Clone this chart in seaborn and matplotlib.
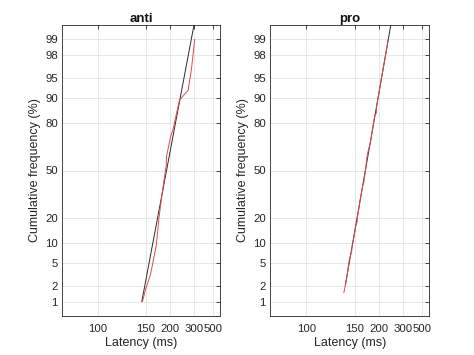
import numpy as np
import pandas as pd
import matplotlib
matplotlib.use("Agg")
import matplotlib.pyplot as plt
import seaborn as sns
from statistics import NormalDist

# ---------------- data ----------------
panels = ["anti", "pro"]

anti_latency = [144.6, 149.5, 157.1, 168.0, 173.2, 180.0, 190.0, 190.5, 201.4, 208.0, 230.0, 267.0, 284.0, 304.0]
anti_pct = [1.0, 1.8, 3.2, 9.3, 19.8, 34.0, 53.9, 59.7, 72.5, 76.4, 89.4, 92.3, 96.3, 99.0]

pro_latency = [135.0, 139.0, 142.0, 145.5, 146.0, 149.0, 151.5, 154.0, 154.5, 159.0, 164.0,
               165.5, 169.0, 171.5, 173.5, 180.0, 185.0, 190.0, 193.5, 194.0, 198.0, 208.0, 221.0, 230.0]
pro_pct = [1.5, 3.0, 5.5, 7.5, 8.5, 12.0, 16.0, 18.0, 20.0, 30.0, 40.0,
           41.0, 50.0, 58.0, 62.0, 70.0, 78.0, 84.0, 84.5, 87.0, 90.0, 95.0, 98.0, 99.0]

# fitted (black) lines: two end points each
anti_fit_latency = [143.6, 307.1]
anti_fit_pct = [1.0, 99.65]
pro_fit_latency = [136.9, 244.4]
pro_fit_pct = [2.1, 99.65]

x_ticks = [100, 150, 200, 300, 500]
y_ticks = [1, 2, 5, 10, 20, 50, 80, 90, 95, 98, 99]

# ---------------- scales ----------------
_nd = NormalDist()
_ppf = np.vectorize(_nd.inv_cdf, otypes=[float])
_cdf = np.vectorize(_nd.cdf, otypes=[float])


def pct_fwd(p):
    p = np.clip(np.asarray(p, dtype=float) / 100.0, 1e-9, 1 - 1e-9)
    return _ppf(p)


def pct_inv(z):
    return _cdf(np.asarray(z, dtype=float)) * 100.0


def lat_fwd(L):
    L = np.maximum(np.asarray(L, dtype=float), 1e-6)
    return -1.0 / L


def lat_inv(r):
    r = np.minimum(np.asarray(r, dtype=float), -1e-9)
    return -1.0 / r


sns.set_style("white")
plt.rcParams["font.family"] = ["Liberation Sans", "DejaVu Sans"]

fig = plt.figure(figsize=(4.74, 3.55), dpi=100)
ax_pos = [[62 / 474, 1 - 315.7 / 355, 158.3 / 474, 290.4 / 355],
          [270 / 474, 1 - 315.7 / 355, 159.3 / 474, 290.4 / 355]]

emp = {"anti": (anti_latency, anti_pct), "pro": (pro_latency, pro_pct)}
fit = {"anti": (anti_fit_latency, anti_fit_pct), "pro": (pro_fit_latency, pro_fit_pct)}

axis_col = "#262626"
for name, pos in zip(panels, ax_pos):
    ax = fig.add_axes(pos)
    ax.set_xscale("function", functions=(lat_fwd, lat_inv))
    ax.set_yscale("function", functions=(pct_fwd, pct_inv))

    fdf = pd.DataFrame({"latency": fit[name][0], "pct": fit[name][1]})
    edf = pd.DataFrame({"latency": emp[name][0], "pct": emp[name][1]})
    sns.lineplot(data=fdf, x="latency", y="pct", sort=False, estimator=None,
                 color="#2b2b2b", lw=0.7, ax=ax, zorder=3)
    sns.lineplot(data=edf, x="latency", y="pct", sort=False, estimator=None,
                 color="#e8474a", lw=0.7, ax=ax, zorder=4)

    ax.set_xlim(80, 660)
    ax.set_ylim(0.5, 99.5)
    ax.set_xticks(x_ticks)
    ax.set_xticklabels([str(t) for t in x_ticks])
    ax.set_yticks(y_ticks)
    ax.set_yticklabels([str(t) for t in y_ticks])
    ax.minorticks_off()
    ax.grid(True, color="#e3e3e3", lw=0.6)
    ax.set_axisbelow(True)
    for s in ax.spines.values():
        s.set_visible(True)
        s.set_color(axis_col)
        s.set_linewidth(0.6)
    ax.tick_params(direction="in", length=3, width=0.6, color=axis_col,
                   labelsize=8.2, labelcolor="#262626", top=True, right=True)
    ax.tick_params(axis="x", pad=6)
    ax.tick_params(axis="y", pad=3)
    ax.set_xlabel("Latency (ms)", fontsize=9, color="#262626", labelpad=2)
    ax.set_ylabel("Cumulative frequency (%)", fontsize=9, color="#262626")
    ax.yaxis.set_label_coords(-0.133, 0.5)
    ax.set_title(name, fontsize=9.5, fontweight="bold", color="#111111", pad=2.5)

fig.savefig("out.png", dpi=100)
